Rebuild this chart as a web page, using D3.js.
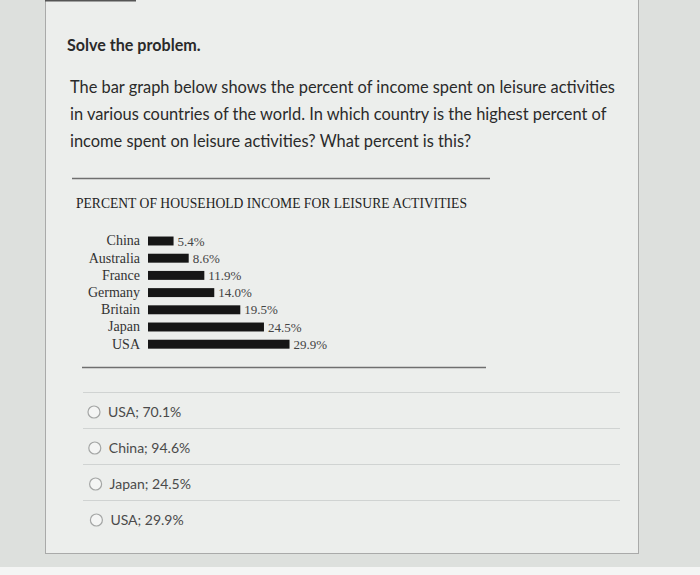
<!DOCTYPE html>
<html>
<head>
<meta charset="utf-8">
<script src="https://cdn.jsdelivr.net/npm/d3@7"></script>
<style>
  body{margin:0;background:#dcdfdc;}
  svg{display:block;}
</style>
</head>
<body>
<svg id="page"></svg>
<script>
var w=700;
var h=575;

// chart data
var countries=["China","Australia","France","Germany","Britain","Japan","USA"];
var values=[5.4,8.6,11.9,14.0,19.5,24.5,29.9];
var chartTitle="PERCENT OF HOUSEHOLD INCOME FOR LEISURE ACTIVITIES";

// question text
var heading="Solve the problem.";
var question=[
  "The bar graph below shows the percent of income spent on leisure activities",
  "in various countries of the world. In which country is the highest percent of",
  "income spent on leisure activities? What percent is this?"
];
var choices=["USA; 70.1%","China; 94.6%","Japan; 24.5%","USA; 29.9%"];

var uiFont="Lato, 'Open Sans', sans-serif";
var serifFont="'Liberation Serif', 'DejaVu Serif', serif";

var svg=d3.select("#page")
          .attr("width",w)
          .attr("height",h);

// screen background + panel
svg.append("rect")
   .attr("width",w).attr("height",h)
   .attr("fill","#dde0dd");
svg.append("rect")
   .attr("x",0).attr("y",567)
   .attr("width",w).attr("height",8)
   .attr("fill","#f4f5f4");
svg.append("rect")
   .attr("x",45.5).attr("y",-2)
   .attr("width",593).attr("height",555.5)
   .attr("fill","#eceeec")
   .attr("stroke","#a9aaa9")
   .attr("stroke-width",1);
svg.append("line")
   .attr("x1",45).attr("x2",136)
   .attr("y1",0.5).attr("y2",0.5)
   .attr("stroke","#555")
   .attr("stroke-width",2);

// heading and question
svg.append("text")
   .attr("x",67).attr("y",51)
   .attr("font-family",uiFont)
   .attr("font-weight","bold")
   .attr("font-size",16.1)
   .attr("fill","#2a2a2a")
   .text(heading);
svg.append("g")
   .selectAll("text")
   .data(question)
   .enter()
   .append("text")
   .attr("x",70)
   .attr("y",function(d,i){return 93+i*27;})
   .attr("font-family",uiFont)
   .attr("font-size",16.4)
   .attr("fill","#2a2a2a")
   .text(function(d){return d;});

// rules around the figure
svg.append("line")
   .attr("x1",72).attr("x2",490)
   .attr("y1",178.5).attr("y2",178.5)
   .attr("stroke","#6f6f6f").attr("stroke-width",1.3);
svg.append("line")
   .attr("x1",82).attr("x2",486)
   .attr("y1",367.5).attr("y2",367.5)
   .attr("stroke","#6f6f6f").attr("stroke-width",1.3);

// figure
svg.append("text")
   .attr("x",76).attr("y",208)
   .attr("font-family",serifFont)
   .attr("font-size",13.6)
   .attr("fill","#222")
   .text(chartTitle);

var xScale=d3.scaleLinear()
             .domain([0,30])
             .range([148,290]);
var yScale=d3.scaleBand()
             .domain(countries)
             .range([232.4,352.8])
             .paddingInner(0.48)
             .paddingOuter(0.24);

var yAxis=d3.axisLeft(yScale).tickSize(0).tickPadding(8);
var gy=svg.append("g")
          .attr("transform","translate("+xScale(0)+",0)")
          .call(yAxis);
gy.select(".domain").remove();
gy.selectAll("text")
  .attr("font-family",serifFont)
  .attr("font-size",14)
  .attr("fill","#333");

svg.append("g")
   .selectAll("rect")
   .data(values)
   .enter()
   .append("rect")
   .attr("x",xScale(0))
   .attr("y",function(d,i){return yScale(countries[i]);})
   .attr("width",function(d){return xScale(d)-xScale(0);})
   .attr("height",yScale.bandwidth())
   .attr("fill","#161616");

svg.append("g")
   .selectAll("text")
   .data(values)
   .enter()
   .append("text")
   .attr("x",function(d){return xScale(d)+4;})
   .attr("y",function(d,i){return yScale(countries[i])+yScale.bandwidth()/2;})
   .attr("dy","0.35em")
   .attr("font-family",serifFont)
   .attr("font-size",13)
   .attr("fill","#444")
   .text(function(d){return d.toFixed(1)+"%";});

// answer choices
var choiceY=d3.scaleLinear().domain([0,3]).range([412,520]);
svg.append("g")
   .selectAll("line")
   .data(choices)
   .enter()
   .append("line")
   .attr("x1",83).attr("x2",620)
   .attr("y1",function(d,i){return choiceY(i)-19.5;})
   .attr("y2",function(d,i){return choiceY(i)-19.5;})
   .attr("stroke","#d0d3d2").attr("stroke-width",1);
svg.append("g")
   .selectAll("circle")
   .data(choices)
   .enter()
   .append("circle")
   .attr("cx",function(d,i){return 94+i*0.8;})
   .attr("cy",function(d,i){return choiceY(i);})
   .attr("r",6)
   .attr("fill","#f4f5f4")
   .attr("stroke","#a4a6a5")
   .attr("stroke-width",1.2);
svg.append("g")
   .selectAll("text")
   .data(choices)
   .enter()
   .append("text")
   .attr("x",function(d,i){return 108+i*0.8;})
   .attr("y",function(d,i){return choiceY(i);})
   .attr("dy","0.36em")
   .attr("font-family",uiFont)
   .attr("font-size",14)
   .attr("fill","#4a4a4a")
   .text(function(d){return d;});
</script>
</body>
</html>
